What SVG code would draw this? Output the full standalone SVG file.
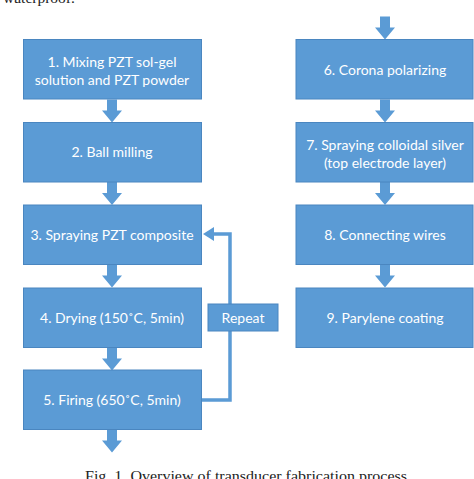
<svg xmlns="http://www.w3.org/2000/svg" width="474" height="479" viewBox="0 0 474 479">
<style>
.box{fill:#5B9BD5;stroke:#4A86C0;stroke-width:1}
.t{font-family:Lato,"Open Sans","Liberation Sans",sans-serif;font-size:14px;fill:#FFFFFF;text-anchor:middle}
.arr{fill:#5B9BD5}
.loop{fill:none;stroke:#5B9BD5;stroke-width:3.5}
.cap{font-family:"Liberation Serif","Times New Roman",serif;font-size:15.5px;fill:#222222}
</style>
<defs>
<path id="dn" d="M-5,0 H5 V11 H10 L0,23 L-10,11 H-5 Z"/>
</defs>
<rect width="474" height="479" fill="#FFFFFF"/>
<text class="cap" x="3" y="3">waterproof.</text>
<g id="connectors">
<use href="#dn" class="arr" x="112" y="99.5"/>
<use href="#dn" class="arr" x="112" y="182"/>
<use href="#dn" class="arr" x="112" y="264.5"/>
<use href="#dn" class="arr" x="112" y="347.5"/>
<use href="#dn" class="arr" x="112" y="429.5"/>
<use href="#dn" class="arr" x="385" y="16.5"/>
<use href="#dn" class="arr" x="385" y="99.5"/>
<use href="#dn" class="arr" x="385" y="182"/>
<use href="#dn" class="arr" x="385" y="264.5"/>
<polyline class="loop" points="201,400 230,400 230,234 212,234"/>
<polygon class="arr" points="203,234 214,227 214,241"/>
</g>
<g id="n1"><rect class="box" x="23.5" y="39.5" width="178" height="59.5"/><text class="t" x="112" y="67">1. Mixing PZT sol-gel</text><text class="t" x="112" y="84.5">solution and PZT powder</text></g>
<g id="n2"><rect class="box" x="23.5" y="122.5" width="178" height="59.5"/><text class="t" x="112" y="157">2. Ball milling</text></g>
<g id="n3"><rect class="box" x="23.5" y="205" width="178" height="59.5"/><text class="t" x="112" y="240">3. Spraying PZT composite</text></g>
<g id="n4"><rect class="box" x="23.5" y="288" width="178" height="59.5"/><text class="t" x="112" y="323">4. Drying (150˚C, 5min)</text></g>
<g id="n5"><rect class="box" x="23.5" y="370" width="178" height="59.5"/><text class="t" x="112" y="405">5. Firing (650˚C, 5min)</text></g>
<g id="repeat"><rect class="box" x="208" y="304" width="70" height="27"/><text class="t" x="243" y="322.5">Repeat</text></g>
<g id="n6"><rect class="box" x="296" y="39.5" width="177" height="59.5"/><text class="t" x="385" y="74.5">6. Corona polarizing</text></g>
<g id="n7"><rect class="box" x="296" y="122.5" width="177" height="59.5"/><text class="t" x="385" y="150">7. Spraying colloidal silver</text><text class="t" x="385" y="167.5">(top electrode layer)</text></g>
<g id="n8"><rect class="box" x="296" y="205" width="177" height="59.5"/><text class="t" x="385" y="240">8. Connecting wires</text></g>
<g id="n9"><rect class="box" x="296" y="288" width="177" height="59.5"/><text class="t" x="385" y="323">9. Parylene coating</text></g>
<text class="cap" x="85" y="481" textLength="322" lengthAdjust="spacingAndGlyphs">Fig. 1. Overview of transducer fabrication process</text>
</svg>
